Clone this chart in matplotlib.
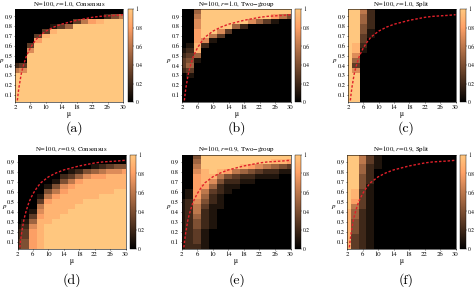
import numpy as np
import matplotlib
matplotlib.use('Agg')
import matplotlib.pyplot as plt

plt.rcParams['font.family'] = ['STIXGeneral', 'DejaVu Serif']
plt.rcParams['mathtext.fontset'] = 'stix'

# ---------------- data ----------------
mu = [2, 4, 6, 8, 10, 12, 14, 16, 18, 20, 22, 24, 26, 28, 30]
p = [0.05, 0.10, 0.15, 0.20, 0.25, 0.30, 0.35, 0.40, 0.45, 0.50,
     0.55, 0.60, 0.65, 0.70, 0.75, 0.80, 0.85, 0.90, 0.95]
xticks = [2, 6, 10, 14, 18, 22, 26, 30]
yticks = [0.1, 0.2, 0.3, 0.4, 0.5, 0.6, 0.7, 0.8, 0.9]
cbar_ticks = [0, 0.2, 0.4, 0.6, 0.8, 1]
cbar_ticklabels = ['0', '0.2', '0.4', '0.6', '0.8', '1']

titles = ['N=100, $r$=1.0, Consensus', 'N=100, $r$=1.0, Two\u2212group', 'N=100, $r$=1.0, Split',
          'N=100, $r$=0.9, Consensus', 'N=100, $r$=0.9, Two\u2212group', 'N=100, $r$=0.9, Split']
panel_labels = ['(a)', '(b)', '(c)', '(d)', '(e)', '(f)']

# red dashed reference curve
curve_mu = [2.5, 2.6, 2.8, 3.0, 3.3, 3.6, 4.0, 4.5, 5.0, 6.0, 7.0, 8.0, 10, 12, 14,
            16, 18, 20, 22, 24, 26, 28, 30]
curve_p = [0.0, 0.04, 0.11, 0.17, 0.24, 0.31, 0.375, 0.44, 0.50, 0.58, 0.64, 0.69,
           0.75, 0.79, 0.82, 0.84, 0.86, 0.875, 0.89, 0.90, 0.905, 0.91, 0.917]

# cell values: rows listed from p=0.95 (top) to p=0.05 (bottom),
# columns mu=2..30; digit d -> d/10, X -> 1.0
cons_r10 = [
    "000000000000000",
    "000000000000246",
    "000000003689XXX",
    "00000135XXXXXXX",
    "000039XXXXXXXXX",
    "00039XXXXXXXXXX",
    "0008XXXXXXXXXXX",
    "003XXXXXXXXXXXX",
    "007XXXXXXXXXXXX",
    "00XXXXXXXXXXXXX",
    "00XXXXXXXXXXXXX",
    "23XXXXXXXXXXXXX",
    "67XXXXXXXXXXXXX",
    "XXXXXXXXXXXXXXX",
    "XXXXXXXXXXXXXXX",
    "XXXXXXXXXXXXXXX",
    "XXXXXXXXXXXXXXX",
    "XXXXXXXXXXXXXXX",
    "XXXXXXXXXXXXXXX",
]
two_r10 = [
    "005XXXXXXXXXXXX",
    "006XXXXXXXXX864",
    "007XXXXXX753100",
    "007XXXX52000000",
    "008XX7300000000",
    "008X63000000000",
    "008710000000000",
    "019200000000000",
    "129000000000000",
    "235000000000000",
    "341000000000000",
    "350000000000000",
    "230000000000000",
    "010000000000000",
    "000000000000000",
    "000000000000000",
    "000000000000000",
    "000000000000000",
    "000000000000000",
]
split_r10 = [
    "XX6200000000000",
    "XX5200000000000",
    "XX5200000000000",
    "XX4200000000000",
    "XX4100000000000",
    "XX3100000000000",
    "XX3000000000000",
    "X92000000000000",
    "X91000000000000",
    "X70000000000000",
    "X50000000000000",
    "X30000000000000",
    "X70000000000000",
    "XX0000000000000",
    "XX0000000000000",
    "XX0000000000000",
    "XX0000000000000",
    "XX0000000000000",
    "XX0000000000000",
]
cons_r09 = [
    "000000000000000",
    "000000000000000",
    "000000000012344",
    "000000012456778",
    "000000235788999",
    "000001468999999",
    "000014789999999",
    "0000468999999XX",
    "00016899999XXXX",
    "000389999XXXXXX",
    "00069999XXXXXXX",
    "0017999XXXXXXXX",
    "003899XXXXXXXXX",
    "01599XXXXXXXXXX",
    "1279XXXXXXXXXXX",
    "2389XXXXXXXXXXX",
    "2389XXXXXXXXXXX",
    "3489XXXXXXXXXXX",
    "3489XXXXXXXXXXX",
]
two_r09 = [
    "004XXXXXXXXXXXX",
    "005XXXXXXXXX998",
    "006XXXXX9876543",
    "0079X9865432211",
    "008996432211100",
    "008974221100000",
    "008852110000000",
    "018632100000000",
    "018521000000000",
    "127421000000000",
    "126311000000000",
    "126210000000000",
    "125210000000000",
    "124210000000000",
    "124210000000000",
    "123100000000000",
    "123100000000000",
    "123100000000000",
    "122100000000000",
]
split_r09 = [
    "XX6310000000000",
    "XX6310000000000",
    "XX5210000000000",
    "XX5200000000000",
    "XX4200000000000",
    "XX4200000000000",
    "XX4100000000000",
    "X93100000000000",
    "X93100000000000",
    "X83100000000000",
    "X63100000000000",
    "952100000000000",
    "952100000000000",
    "942100000000000",
    "942100000000000",
    "942100000000000",
    "932100000000000",
    "932100000000000",
    "932100000000000",
]
grids = [cons_r10, two_r10, split_r10, cons_r09, two_r09, split_r09]


def decode(rows):
    arr = np.array([[1.0 if ch == 'X' else int(ch) / 10.0 for ch in r] for r in rows])
    return arr[::-1]  # bottom row first (p ascending)


# ---------------- layout (pixels) ----------------
W, H = 474, 287
fig = plt.figure(figsize=(W / 100, H / 100), dpi=100)

# (left, top, right, bottom) of each heatmap in pixel coordinates (top origin)
boxes = [(15, 9.0, 123, 102.3), (182, 9.0, 290.5, 102.3), (348, 9.0, 455.5, 102.3),
         (17.5, 154.5, 125.5, 249.2), (181.5, 154.5, 290.5, 249.2), (347, 154.5, 455.5, 249.2)]
label_pos = [(74, 128), (237, 128), (406, 128), (72, 280), (237, 280), (406, 280)]

for k in range(6):
    l, t, r, b = boxes[k]
    ax = fig.add_axes([l / W, (H - b) / H, (r - l) / W, (b - t) / H])
    Z = decode(grids[k])
    mesh = ax.pcolormesh(mu, p, Z, cmap='copper', vmin=0, vmax=1,
                         shading='nearest', antialiased=False, rasterized=True)
    ax.plot(curve_mu, curve_p, color='#e0202a', lw=1.0, ls=(0, (1.8, 1.3)))
    ax.set_xlim(2, 30)
    ax.set_ylim(0.025, 0.975)
    ax.set_xticks(xticks)
    ax.set_yticks(yticks)
    ax.set_yticklabels(['%.1f' % v for v in yticks])
    ax.tick_params(labelsize=4.8, length=1.0, width=0.4, pad=0.6, direction='out')
    ax.tick_params(axis='y', labelsize=4.6)
    for s in ax.spines.values():
        s.set_linewidth(0.4)
    ax.set_xlabel('\u03bc', fontsize=5.5, labelpad=0.3)
    ax.set_ylabel('p', fontsize=5.0, style='italic', rotation=0, ha='left', va='center')
    ax.yaxis.set_label_coords(-15.0 / (r - l), 0.455)
    ax.set_title(titles[k], fontsize=4.9, pad=0.5)

    cax = fig.add_axes([(r + 4.5) / W, (H - b) / H, 5.5 / W, (b - t) / H])
    cb = fig.colorbar(mesh, cax=cax, ticks=cbar_ticks)
    cb.ax.set_yticklabels(cbar_ticklabels)
    cb.ax.tick_params(labelsize=4.1, length=1.0, width=0.3, pad=1.0)
    cb.outline.set_linewidth(0.3)

    fig.text(label_pos[k][0] / W, 1 - label_pos[k][1] / H, panel_labels[k],
             fontsize=10, ha='center', va='center', family='cmr10')

fig.savefig('out.png', dpi=100)
